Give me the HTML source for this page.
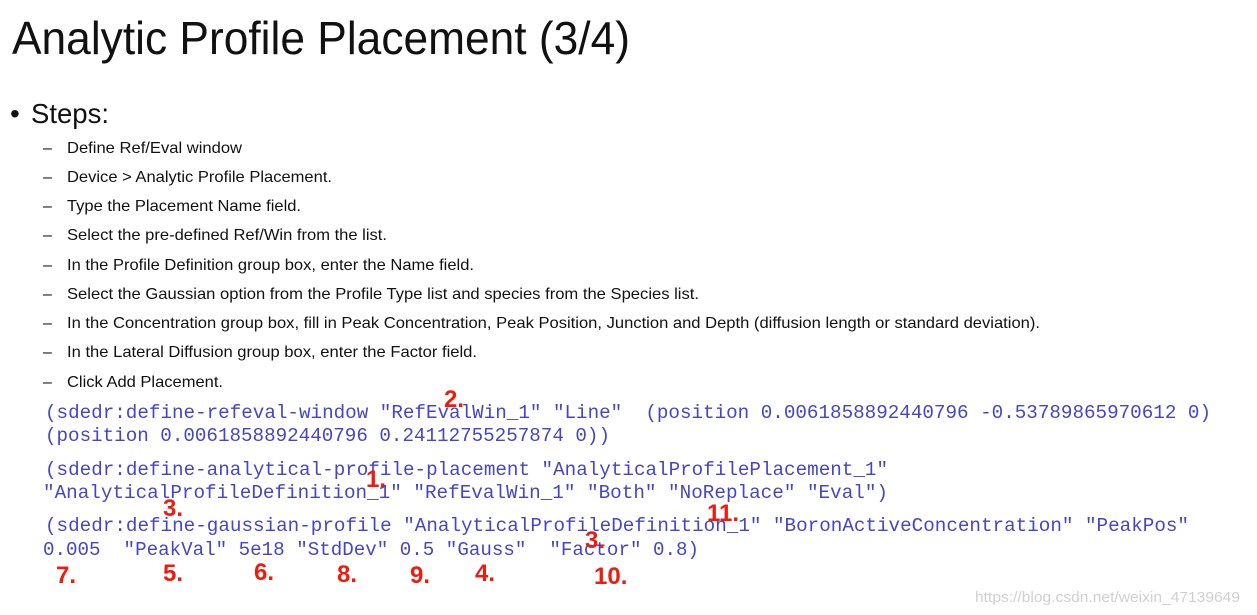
<!DOCTYPE html>
<html><head><meta charset="utf-8"><style>
html,body{margin:0;padding:0;background:#fff;}
svg{display:block}
.t{font-family:"Liberation Sans",Arial,sans-serif;fill:#111}
.c{font-family:"Liberation Mono","Courier New",monospace;fill:#4646c4;font-size:19px;white-space:pre}
.c text{white-space:pre}
.r{font-family:"Liberation Sans",Arial,sans-serif;fill:#ec1c10;font-weight:bold;font-size:24px}
</style></head><body>
<svg width="1257" height="615" viewBox="0 0 1257 615" xmlns="http://www.w3.org/2000/svg">
<text class="t" x="12" y="54" font-size="46" textLength="618" lengthAdjust="spacingAndGlyphs">Analytic Profile Placement (3/4)</text>
<text class="t" x="10" y="123" font-size="28">•</text>
<text class="t" x="31" y="123" font-size="28" textLength="78" lengthAdjust="spacingAndGlyphs">Steps:</text>
<g class="t" font-size="16">
<text x="43" y="153">–</text><text x="67" y="153" textLength="175" lengthAdjust="spacingAndGlyphs">Define Ref/Eval window</text>
<text x="43" y="182">–</text><text x="67" y="182" textLength="265" lengthAdjust="spacingAndGlyphs">Device &gt; Analytic Profile Placement.</text>
<text x="43" y="211">–</text><text x="67" y="211" textLength="234" lengthAdjust="spacingAndGlyphs">Type the Placement Name field.</text>
<text x="43" y="240">–</text><text x="67" y="240" textLength="320" lengthAdjust="spacingAndGlyphs">Select the pre-defined Ref/Win from the list.</text>
<text x="43" y="270">–</text><text x="67" y="270" textLength="407" lengthAdjust="spacingAndGlyphs">In the Profile Definition group box, enter the Name field.</text>
<text x="43" y="299">–</text><text x="67" y="299" textLength="632" lengthAdjust="spacingAndGlyphs">Select the Gaussian option from the Profile Type list and species from the Species list.</text>
<text x="43" y="328">–</text><text x="67" y="328" textLength="973" lengthAdjust="spacingAndGlyphs">In the Concentration group box, fill in Peak Concentration, Peak Position, Junction and Depth (diffusion length or standard deviation).</text>
<text x="43" y="357">–</text><text x="67" y="357" textLength="410" lengthAdjust="spacingAndGlyphs">In the Lateral Diffusion group box, enter the Factor field.</text>
<text x="43" y="387">–</text><text x="67" y="387" textLength="156" lengthAdjust="spacingAndGlyphs">Click Add Placement.</text>
</g>
<g class="c">
<text x="45" y="418" textLength="1166" lengthAdjust="spacingAndGlyphs">(sdedr:define-refeval-window "RefEvalWin_1" "Line"  (position 0.0061858892440796 -0.53789865970612 0)</text>
<text x="45" y="441" textLength="565" lengthAdjust="spacingAndGlyphs">(position 0.0061858892440796 0.24112755257874 0))</text>
<text x="45" y="475" textLength="843" lengthAdjust="spacingAndGlyphs">(sdedr:define-analytical-profile-placement "AnalyticalProfilePlacement_1"</text>
<text x="43" y="498" textLength="845" lengthAdjust="spacingAndGlyphs">"AnalyticalProfileDefinition_1" "RefEvalWin_1" "Both" "NoReplace" "Eval")</text>
<text x="45" y="531" textLength="1144" lengthAdjust="spacingAndGlyphs">(sdedr:define-gaussian-profile "AnalyticalProfileDefinition_1" "BoronActiveConcentration" "PeakPos"</text>
<text x="43" y="555" textLength="656" lengthAdjust="spacingAndGlyphs">0.005  "PeakVal" 5e18 "StdDev" 0.5 "Gauss"  "Factor" 0.8)</text>
</g>
<g class="r">
<text x="444" y="407">2.</text>
<text x="366" y="487">1.</text>
<text x="163" y="516">3.</text>
<text x="707" y="521">11.</text>
<text x="585" y="548">3.</text>
<text x="56" y="583">7.</text>
<text x="163" y="581">5.</text>
<text x="254" y="580">6.</text>
<text x="337" y="582">8.</text>
<text x="410" y="583">9.</text>
<text x="475" y="581">4.</text>
<text x="594" y="584">10.</text>
</g>
<text x="975" y="602" font-family="Liberation Sans,Arial,sans-serif" font-size="15" fill="#d0d0d0" textLength="265" lengthAdjust="spacingAndGlyphs">https://blog.csdn.net/weixin_47139649</text>
</svg>
</body></html>
